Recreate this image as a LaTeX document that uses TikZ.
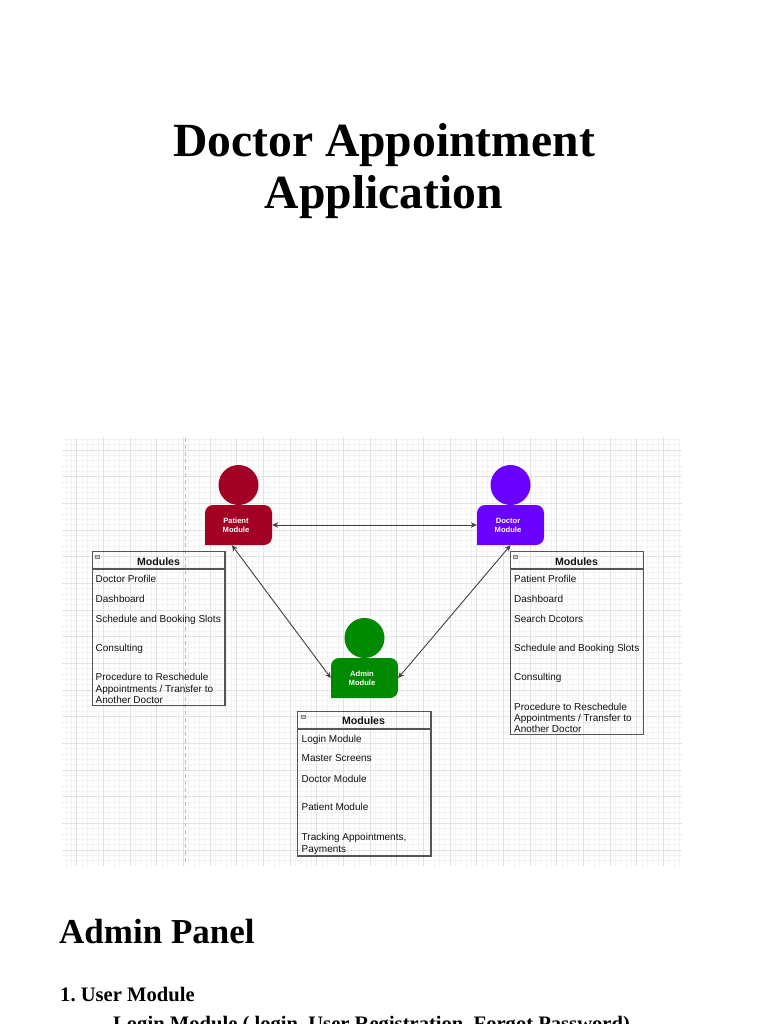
\documentclass[tikz,border=0pt]{standalone}
\usepackage{fontspec}
\setmainfont{Liberation Serif}
\setsansfont{Liberation Sans}
\usetikzlibrary{calc,arrows.meta}
\definecolor{patientc}{HTML}{A20025}
\definecolor{doctorc}{HTML}{6A00FF}
\definecolor{adminc}{HTML}{008A00}
\definecolor{gridminor}{HTML}{F3F3F3}
\definecolor{gridmajor}{HTML}{E2E2E2}
\definecolor{boxline}{HTML}{555555}
\definecolor{inktext}{HTML}{111111}
\tikzset{
  x=1pt,y=-1pt,
  pagetext/.style={text=black,inner sep=0pt},
  titletext/.style={pagetext,anchor=base,font=\rmfamily\bfseries\fontsize{47.6}{47.6}\selectfont},
  headtext/.style={pagetext,anchor=base west,font=\rmfamily\bfseries\fontsize{35}{35}\selectfont},
  subtext/.style={pagetext,anchor=base west,font=\rmfamily\bfseries\fontsize{20.6}{20.6}\selectfont},
  itemtext/.style={anchor=base west,inner sep=0pt,text=inktext,font=\sffamily\fontsize{10}{10}\selectfont},
  boxhead/.style={anchor=base,inner sep=0pt,text=inktext,font=\sffamily\bfseries\fontsize{10.6}{10.6}\selectfont},
  labeltext/.style={anchor=center,inner sep=0pt,text=white,align=center,font=\sffamily\bfseries\fontsize{7.6}{9.2}\selectfont},
  modulebox/.style={draw=boxline,line width=1.1pt,fill=none},
  headline/.style={draw=boxline,line width=1.1pt},
  tinyicon/.style={draw=gray,fill=gray!40,line width=0.3pt,inner sep=0pt,minimum width=4pt,minimum height=3pt},
  link/.style={draw=black!75,line width=0.9pt,{Stealth[length=6pt,width=5.5pt]}-{Stealth[length=6pt,width=5.5pt]}},
  headcircle/.style={circle,inner sep=0pt,minimum size=40pt},
  bodybox/.style={inner sep=0pt,minimum width=67pt,minimum height=40pt},
}
\newcommand{\personfig}[6]{%
  \node[headcircle,fill=#4] (#1head) at (#2,#3-40) {};
  \fill[#4] (#2-33.5,#3+20) -- (#2-33.5,#3-12)
     .. controls (#2-33.5,#3-16.4) and (#2-29.9,#3-20) .. (#2-25.5,#3-20)
     -- (#2+25.5,#3-20)
     .. controls (#2+29.9,#3-20) and (#2+33.5,#3-16.4) .. (#2+33.5,#3-12)
     -- (#2+33.5,#3+12)
     .. controls (#2+33.5,#3+16.4) and (#2+29.9,#3+20) .. (#2+25.5,#3+20)
     -- cycle;
  \node[bodybox] (#1body) at (#2,#3) {};
  \node[labeltext] (#1label) at (#2-2.5,#3+0.5) {#5\\#6};
}
\begin{document}
\begin{tikzpicture}
\useasboundingbox (0,0) rectangle (768,1024);
\clip (0,0) rectangle (768,1024);
\fill[white] (0,0) rectangle (768,1024);
% grid
\begin{scope}
\clip (62,438) rectangle (682,865);
\foreach \i in {0,...,120} {\draw[gridminor,line width=0.5pt] (50+5.3333*\i,430) -- (50+5.3333*\i,870);}
\foreach \i in {0,...,84} {\draw[gridminor,line width=0.5pt] (55,434+5.3333*\i) -- (690,434+5.3333*\i);}
\foreach \i in {0,...,24} {\draw[gridmajor,line width=1pt] (50+26.6667*\i,430) -- (50+26.6667*\i,870);}
\foreach \i in {0,...,16} {\draw[gridmajor,line width=1pt] (55,423.3333+26.6667*\i) -- (690,423.3333+26.6667*\i);}
\draw[gray!55,line width=0.6pt,dash pattern=on 4pt off 3pt] (185.3,438) -- (185.3,865);
\end{scope}
% titles
\node[titletext] (title1) at (384,157) {Doctor Appointment};
\node[titletext] (title2) at (384,209) {Application};
\node[headtext] (adminpanel) at (59,943) {Admin Panel};
\node[subtext] (usermodule) at (60,1001) {1.\ User Module};
\node[subtext] (loginline) at (113,1030) {Login Module ( login, User Registration, Forgot Password)};
% people
\personfig{patient}{238.5}{525}{patientc}{Patient}{Module}
\personfig{doctor}{510.5}{525}{doctorc}{Doctor}{Module}
\personfig{admin}{364.5}{678}{adminc}{Admin}{Module}
% connectors
\draw[link] (patientbody.east) -- (doctorbody.west);
\draw[link] (patientbody.252) -- (adminbody.west);
\draw[link] (doctorbody.south) -- (adminbody.east);
% left box
\node[modulebox,inner sep=0pt,minimum width=132.5pt,minimum height=154pt] (leftbox) at (158.75,628.5) {};
\draw[headline] (leftbox.west |- 0,569) coordinate (lh1) -- (leftbox.east |- 0,569) coordinate (lh2);
\node[tinyicon] (lefticon) at (97.5,556.5) {};
\node[boxhead] (lefthead) at (158.5,565) {Modules};
\node[itemtext] (l1) at (95.5,582) {Doctor Profile};
\node[itemtext] (l2) at (95.5,602) {Dashboard};
\node[itemtext] (l3) at (95.5,622) {Schedule and Booking Slots};
\node[itemtext] (l4) at (95.5,651) {Consulting};
\node[itemtext] (l5) at (95.5,680) {Procedure to Reschedule};
\node[itemtext] (l6) at (95.5,692) {Appointments / Transfer to};
\node[itemtext] (l7) at (95.5,703) {Another Doctor};
% right box
\node[modulebox,inner sep=0pt,minimum width=133pt,minimum height=183pt] (rightbox) at (577,643) {};
\draw[headline] (rightbox.west |- 0,569) coordinate (rh1) -- (rightbox.east |- 0,569) coordinate (rh2);
\node[tinyicon] (righticon) at (515.5,556.5) {};
\node[boxhead] (righthead) at (576.5,565) {Modules};
\node[itemtext] (r1) at (514,582) {Patient Profile};
\node[itemtext] (r2) at (514,602) {Dashboard};
\node[itemtext] (r3) at (514,622) {Search Dcotors};
\node[itemtext] (r4) at (514,651) {Schedule and Booking Slots};
\node[itemtext] (r5) at (514,680) {Consulting};
\node[itemtext] (r6) at (514,710) {Procedure to Reschedule};
\node[itemtext] (r7) at (514,721.5) {Appointments / Transfer to};
\node[itemtext] (r8) at (514,732.5) {Another Doctor};
% admin box
\node[modulebox,inner sep=0pt,minimum width=133.5pt,minimum height=144.5pt] (adminbox) at (364.25,783.75) {};
\draw[headline] (adminbox.west |- 0,729) coordinate (ah1) -- (adminbox.east |- 0,729) coordinate (ah2);
\node[tinyicon] (adminicon) at (303.5,716.5) {};
\node[boxhead] (adminhead) at (363.5,724) {Modules};
\node[itemtext] (a1) at (301.5,742) {Login Module};
\node[itemtext] (a2) at (301.5,761.5) {Master Screens};
\node[itemtext] (a3) at (301.5,782) {Doctor Module};
\node[itemtext] (a4) at (301.5,810.5) {Patient Module};
\node[itemtext] (a5) at (301.5,840) {Tracking Appointments,};
\node[itemtext] (a6) at (301.5,852) {Payments};
\end{tikzpicture}
\end{document}
